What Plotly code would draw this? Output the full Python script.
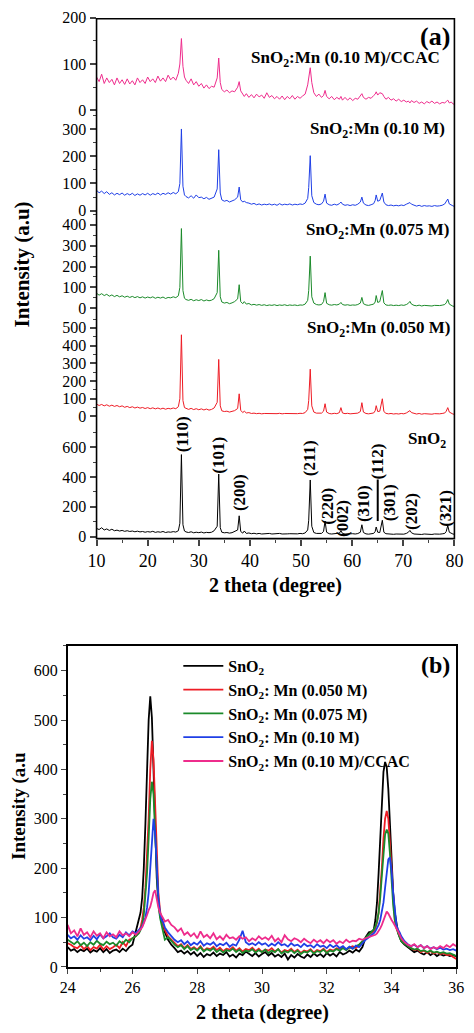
import plotly.graph_objects as go

W, H = 474, 1033

# ---------------- Panel (a) data: 2theta grid (degrees) ----------------
TWO_THETA_A = (
    [10, 10.5, 11, 11.5, 12, 12.5, 13, 13.5, 14, 14.5, 15, 15.5, 16, 16.5, 17, 17.5, 18, 18.5, 19, 19.5,
     20, 20.5, 21, 21.5, 22, 22.5, 23, 23.5, 24, 24.5, 25, 25.5, 26]
    + [26.3, 26.6, 26.9, 27.2]
    + [27.5, 28, 28.5, 29, 29.5, 30, 30.5, 31, 31.5, 32, 32.5, 33]
    + [33.6, 33.9, 34.2]
    + [34.5, 35, 35.5, 36, 36.5, 37]
    + [37.6, 37.9, 38.2]
    + [38.6, 38.9, 39.3, 39.8, 40.3, 40.8, 41.3, 41.8, 42.3, 42.8, 43.3, 43.8, 44.3, 44.8, 45.3, 45.8,
       46.3, 46.8, 47.3, 47.8, 48.3, 48.8, 49.3, 49.8, 50.3, 50.8, 51.3]
    + [51.5, 51.8, 52.1]
    + [52.5, 53, 53.5, 54, 54.4]
    + [54.7, 55.0]
    + [55.5, 56, 56.5, 57, 57.5]
    + [57.8, 58.1]
    + [58.6, 59.1, 59.6, 60.1, 60.6, 61.1, 61.6]
    + [61.9, 62.2]
    + [62.7, 63.2, 63.7, 64.2, 64.5]
    + [64.7, 65.0, 65.4, 65.9, 66.2]
    + [66.6, 67.1, 67.6, 68.1, 68.6, 69.1, 69.6, 70.1, 70.6]
    + [71.0, 71.3, 71.6]
    + [72.1, 72.6, 73.1, 73.6, 74.1, 74.6, 75.1, 75.6, 76.1, 76.6, 77.1, 77.6, 78.1, 78.4]
    + [78.7, 79.0]
    + [79.4, 79.7, 80]
)

SNO2_A = (
    [55, 48, 60, 45, 52, 42, 50, 40, 44, 38, 42, 36, 40, 35, 38, 33, 37, 32, 35, 30,
     34, 31, 36, 29, 33, 30, 35, 28, 32, 30, 34, 31, 40]
    + [90, 550, 80, 38]
    + [32, 28, 33, 26, 30, 27, 31, 25, 29, 27, 30, 40]
    + [70, 420, 60]
    + [30, 26, 28, 24, 27, 35]
    + [45, 140, 35]
    + [24, 38, 22, 25, 20, 23, 19, 22, 18, 21, 19, 22, 18, 21, 19, 22, 18, 21, 19, 20, 18, 21, 19, 22, 20, 25, 45]
    + [110, 380, 70]
    + [28, 22, 20, 22, 35]
    + [105, 30]
    + [20, 18, 21, 19, 24]
    + [40, 22]
    + [18, 20, 17, 20, 18, 21, 30]
    + [80, 28]
    + [19, 17, 20, 22, 35]
    + [65, 30, 28, 110, 30]
    + [20, 17, 19, 16, 18, 16, 19, 17, 22]
    + [30, 42, 26]
    + [18, 16, 19, 15, 18, 16, 17, 15, 18, 16, 17, 19, 22, 35]
    + [75, 30]
    + [20, 18, 16]
)

MN050_A = (
    [70, 62, 68, 60, 66, 58, 64, 57, 62, 55, 60, 52, 57, 50, 55, 48, 53, 47, 51, 45,
     50, 44, 49, 43, 48, 42, 47, 41, 46, 43, 48, 44, 55]
    + [100, 461, 90, 50]
    + [45, 40, 46, 39, 44, 38, 43, 37, 42, 36, 40, 48]
    + [80, 322, 60]
    + [32, 28, 30, 25, 27, 33]
    + [45, 128, 35]
    + [22, 30, 20, 22, 17, 19, 16, 18, 15, 17, 16, 18, 15, 17, 16, 18, 15, 17, 16, 18, 15, 17, 16, 18, 17, 22, 40]
    + [90, 267, 60]
    + [25, 19, 17, 19, 30]
    + [72, 25]
    + [17, 15, 18, 16, 22]
    + [50, 20]
    + [16, 18, 15, 17, 16, 19, 28]
    + [78, 25]
    + [17, 15, 18, 20, 32]
    + [61, 28, 30, 100, 28]
    + [18, 15, 17, 14, 16, 14, 17, 15, 20]
    + [25, 33, 22]
    + [16, 14, 17, 13, 16, 14, 15, 13, 16, 14, 15, 17, 20, 30]
    + [50, 25]
    + [16, 14, 12]
)

MN075_A = (
    [72, 63, 70, 61, 67, 58, 64, 56, 62, 55, 60, 53, 58, 52, 57, 51, 56, 50, 55, 49,
     54, 50, 55, 48, 53, 49, 54, 47, 52, 50, 55, 51, 60]
    + [100, 382, 85, 48]
    + [42, 38, 43, 36, 41, 37, 42, 35, 40, 36, 39, 46]
    + [75, 278, 55]
    + [30, 25, 28, 22, 26, 32]
    + [45, 113, 32]
    + [22, 32, 20, 23, 16, 19, 15, 18, 14, 17, 13, 16, 14, 17, 13, 16, 14, 17, 13, 16, 14, 16, 13, 16, 15, 20, 38]
    + [85, 250, 55]
    + [25, 18, 16, 18, 32]
    + [75, 24]
    + [17, 15, 18, 16, 20]
    + [28, 18]
    + [15, 17, 14, 16, 15, 18, 25]
    + [52, 22]
    + [16, 14, 17, 20, 30]
    + [61, 28, 32, 85, 26]
    + [16, 14, 16, 13, 15, 13, 16, 14, 18]
    + [24, 33, 20]
    + [14, 12, 15, 11, 14, 12, 13, 11, 14, 12, 13, 15, 18, 26]
    + [42, 20]
    + [12, 10, 9]
)

MN010_A = (
    [75, 66, 72, 63, 70, 60, 66, 58, 64, 59, 65, 57, 63, 58, 64, 56, 62, 57, 63, 58,
     64, 57, 63, 59, 65, 58, 64, 60, 66, 61, 67, 62, 70]
    + [100, 300, 90, 58]
    + [52, 47, 55, 46, 58, 48, 50, 44, 49, 42, 46, 50]
    + [80, 224, 65]
    + [40, 35, 38, 32, 36, 40]
    + [50, 87, 40]
    + [32, 35, 30, 28, 24, 27, 22, 25, 21, 24, 22, 25, 21, 24, 20, 26, 21, 24, 22, 25, 21, 24, 22, 25, 23, 28, 45]
    + [85, 202, 55]
    + [30, 24, 22, 25, 35]
    + [61, 28]
    + [22, 20, 24, 21, 26]
    + [32, 24]
    + [20, 22, 19, 22, 20, 24, 32]
    + [50, 28]
    + [21, 19, 22, 26, 38]
    + [58, 35, 38, 65, 32]
    + [22, 19, 21, 18, 20, 18, 21, 19, 24]
    + [27, 30, 24]
    + [19, 17, 20, 16, 19, 17, 18, 16, 19, 17, 18, 20, 25, 32]
    + [43, 25]
    + [20, 18, 16]
)

CCAC_A = (
    [72, 62, 78, 58, 70, 60, 67, 55, 70, 58, 66, 56, 68, 57, 64, 55, 70, 60, 66, 58,
     72, 62, 68, 60, 74, 63, 70, 62, 76, 66, 72, 65, 80]
    + [100, 155, 95, 72]
    + [65, 58, 68, 55, 62, 52, 58, 48, 55, 47, 52, 50]
    + [70, 113, 60]
    + [45, 40, 44, 38, 42, 40]
    + [50, 62, 42]
    + [34, 30, 36, 28, 34, 27, 35, 29, 33, 26, 38, 28, 32, 25, 30, 24, 31, 23, 30, 25, 32, 24, 30, 26, 31, 35, 55]
    + [70, 92, 60]
    + [38, 30, 35, 28, 32]
    + [43, 30]
    + [25, 30, 23, 28, 24]
    + [30, 22]
    + [28, 22, 27, 21, 26, 24, 30]
    + [36, 28]
    + [24, 28, 26, 32, 35]
    + [40, 33, 38, 36, 30]
    + [24, 28, 22, 25, 20, 24, 19, 22, 18]
    + [20, 16, 21]
    + [17, 20, 15, 18, 14, 19, 16, 20, 15, 18, 14, 17, 16, 19]
    + [22, 16]
    + [18, 14, 13]
)

# Miller indices of SnO2 reflections
MILLER = ["(110)", "(101)", "(200)", "(211)", "(220)", "(002)", "(310)", "(112)", "(301)", "(202)", "(321)"]
MILLER_2THETA = [26.7, 33.9, 38.0, 51.8, 55.2, 58.2, 62.1, 65.0, 67.2, 71.5, 78.1]

# ---------------- Panel (b) data ----------------
TWO_THETA_B = (
    [24.0, 24.1, 24.2, 24.3, 24.4, 24.5, 24.6, 24.7, 24.8, 24.9, 25.0, 25.1, 25.2, 25.3, 25.4, 25.5,
     25.6, 25.7, 25.8, 25.9, 26.0, 26.1, 26.2]
    + [26.25, 26.3, 26.35, 26.4, 26.45, 26.5, 26.55, 26.6, 26.65, 26.7, 26.75, 26.8, 26.85, 26.9, 26.95, 27.0]
    + [27.1, 27.2, 27.3, 27.4, 27.5, 27.6, 27.7, 27.8, 27.9, 28.0,
       28.1, 28.2, 28.3, 28.4, 28.5, 28.6, 28.7, 28.8, 28.9, 29.0,
       29.1, 29.2, 29.3, 29.4, 29.5, 29.6, 29.7, 29.8, 29.9, 30.0,
       30.1, 30.2, 30.3, 30.4, 30.5, 30.6, 30.7, 30.8, 30.9, 31.0,
       31.1, 31.2, 31.3, 31.4, 31.5, 31.6, 31.7, 31.8, 31.9, 32.0,
       32.1, 32.2, 32.3, 32.4, 32.5, 32.6, 32.7, 32.8, 32.9, 33.0,
       33.1, 33.2, 33.3, 33.4]
    + [33.45, 33.5, 33.55, 33.6, 33.65, 33.7, 33.75, 33.8, 33.85, 33.9, 33.95, 34.0, 34.05, 34.1, 34.15,
       34.2, 34.25, 34.3]
    + [34.4, 34.5, 34.6, 34.7, 34.8, 34.9, 35.0, 35.1, 35.2, 35.3, 35.4, 35.5, 35.6, 35.7, 35.8, 35.9, 36.0]
)

SNO2_B = (
    [40, 33, 36, 30, 35, 32, 37, 29, 34, 31, 38, 30, 36, 28, 33, 35, 30, 37, 32, 40, 45, 70, 95]
    + [110, 140, 200, 290, 400, 500, 548, 505, 400, 280, 180, 130, 105, 100, 85, 70]
    + [55, 45, 38, 30, 33, 27, 32, 25, 30, 22,
       28, 20, 26, 23, 29, 22, 27, 24, 30, 21,
       25, 19, 27, 24, 31, 26, 22, 28, 21, 26,
       30, 23, 28, 21, 25, 20, 27, 15, 24, 19,
       26, 21, 18, 25, 20, 27, 22, 26, 20, 28,
       23, 27, 21, 30, 25, 28, 33, 29, 35, 31,
       40, 60, 70, 72]
    + [75, 95, 130, 190, 270, 340, 395, 415, 405, 360, 290, 210, 150, 110, 85, 70, 60, 52]
    + [45, 40, 35, 30, 33, 28, 25, 30, 24, 28, 22, 26, 23, 25, 22, 24, 21]
)

MN050_B = (
    [48, 45, 40, 38, 44, 36, 42, 34, 40, 37, 45, 35, 42, 36, 40, 45, 38, 50, 42, 55, 58, 62, 70]
    + [80, 95, 120, 160, 220, 300, 400, 458, 420, 320, 220, 150, 115, 95, 85, 75]
    + [62, 55, 48, 42, 46, 38, 44, 36, 40, 35,
       42, 33, 38, 36, 41, 34, 39, 32, 37, 35,
       40, 33, 38, 31, 36, 34, 39, 32, 37, 30,
       35, 33, 38, 31, 36, 29, 34, 32, 37, 30,
       35, 28, 33, 31, 36, 29, 34, 32, 37, 30,
       35, 33, 38, 36, 40, 35, 39, 42, 38, 45,
       50, 58, 65, 70]
    + [72, 78, 90, 110, 150, 200, 260, 300, 316, 300, 250, 190, 130, 95, 78, 70, 62, 55]
    + [48, 42, 38, 34, 36, 30, 33, 28, 32, 27, 30, 26, 28, 24, 25, 20, 16]
)

MN075_B = (
    [55, 50, 46, 52, 44, 49, 42, 50, 45, 53, 47, 44, 51, 46, 49, 43, 52, 47, 55, 50, 58, 62, 68]
    + [75, 85, 105, 140, 190, 260, 340, 375, 350, 270, 190, 130, 100, 85, 70, 55]
    + [60, 52, 45, 40, 44, 36, 42, 34, 38, 33,
       40, 31, 36, 33, 38, 30, 35, 29, 34, 32,
       37, 30, 35, 28, 33, 31, 36, 29, 34, 30,
       35, 28, 33, 30, 36, 27, 32, 29, 34, 28,
       33, 26, 31, 29, 34, 27, 32, 30, 35, 28,
       33, 31, 36, 33, 38, 34, 40, 37, 42, 45,
       52, 60, 66, 72]
    + [76, 82, 92, 110, 140, 185, 235, 268, 278, 270, 230, 175, 125, 95, 78, 68, 60, 52]
    + [47, 42, 38, 35, 37, 32, 34, 30, 33, 29, 31, 28, 30, 27, 28, 25, 22]
)

MN010_B = (
    [65, 58, 62, 55, 64, 57, 60, 54, 63, 56, 66, 58, 62, 68, 60, 57, 65, 60, 70, 64, 72, 68, 75]
    + [78, 82, 90, 100, 120, 150, 200, 260, 300, 270, 200, 140, 110, 95, 90, 80]
    + [70, 62, 55, 50, 54, 46, 52, 44, 49, 45,
       52, 43, 48, 45, 50, 42, 47, 44, 49, 41,
       46, 43, 55, 73, 50, 45, 48, 44, 50, 45,
       48, 42, 47, 43, 50, 44, 46, 41, 48, 43,
       45, 40, 47, 42, 44, 39, 46, 41, 43, 38,
       45, 40, 44, 38, 42, 36, 41, 37, 43, 40,
       48, 55, 60, 65]
    + [68, 72, 78, 85, 95, 110, 130, 160, 195, 218, 222, 195, 150, 110, 85, 75, 70, 62]
    + [52, 46, 42, 45, 40, 44, 38, 42, 37, 40, 36, 39, 35, 37, 34, 36, 33]
)

CCAC_B = (
    [85, 68, 74, 62, 78, 65, 70, 60, 72, 63, 68, 58, 70, 62, 66, 60, 72, 64, 68, 62, 70, 65, 72]
    + [75, 80, 88, 95, 105, 115, 122, 135, 150, 155, 135, 120, 110, 105, 98, 92]
    + [95, 85, 80, 72, 78, 65, 70, 62, 68, 58,
       72, 60, 65, 58, 68, 56, 62, 55, 65, 58,
       60, 55, 62, 57, 60, 52, 58, 54, 62, 56,
       60, 55, 63, 52, 58, 50, 64, 56, 52, 58,
       55, 50, 57, 52, 48, 55, 50, 54, 48, 55,
       50, 54, 47, 52, 48, 55, 50, 53, 52, 57,
       55, 58, 60, 62]
    + [63, 65, 68, 72, 78, 85, 95, 105, 112, 108, 100, 95, 90, 85, 78, 72, 65, 58]
    + [50, 45, 42, 46, 40, 44, 38, 42, 36, 40, 37, 42, 38, 44, 40, 46, 42]
)

for arr in (SNO2_A, MN050_A, MN075_A, MN010_A, CCAC_A):
    assert len(arr) == len(TWO_THETA_A), (len(arr), len(TWO_THETA_A))
for arr in (SNO2_B, MN050_B, MN075_B, MN010_B, CCAC_B):
    assert len(arr) == len(TWO_THETA_B), (len(arr), len(TWO_THETA_B))

NAMES = ["SnO<sub>2</sub>", "SnO<sub>2</sub>: Mn (0.050 M)", "SnO<sub>2</sub>: Mn (0.075 M)",
         "SnO<sub>2</sub>: Mn (0.10 M)", "SnO<sub>2</sub>: Mn (0.10 M)/CCAC"]
PANEL_LABELS = ["SnO<sub>2</sub>", "SnO<sub>2</sub>:Mn (0.050 M)", "SnO<sub>2</sub>:Mn (0.075 M)",
                "SnO<sub>2</sub>:Mn (0.10 M)", "SnO<sub>2</sub>:Mn (0.10 M)/CCAC"]
COLORS = ["#000000", "#ee1c25", "#1b8a2a", "#1f3fe6", "#ee2c8c"]

# ---------------- layout helpers (pixel -> paper) ----------------
def px(x):
    return x / W

def py(y):
    return 1 - y / H

FONT = "Liberation Serif"

# panel (a) sub-axes: (top px, bottom px, range, tickvals, minor dtick)
A_LEFT, A_RIGHT, A_TOP, A_BOT = 91, 463, 12, 540
SUB = [
    (419, 540, [-13, 785], [0, 200, 400, 600], 100),     # SnO2
    (309, 419, [-17, 594], [0, 100, 200, 300, 400, 500], 50),
    (210, 309, [-14, 453], [0, 100, 200, 300, 400], 50),
    (107, 210, [-11, 361], [0, 100, 200, 300], 50),
    (9, 107, [-4.3, 204], [0, 100, 200], 50),
]
A_SERIES = [SNO2_A, MN050_A, MN075_A, MN010_A, CCAC_A]
B_SERIES = [SNO2_B, MN050_B, MN075_B, MN010_B, CCAC_B]

fig = go.Figure()
for i, ys in enumerate(A_SERIES):
    fig.add_trace(go.Scatter(x=TWO_THETA_A, y=ys, mode="lines", xaxis="x",
                             yaxis="y" if i == 0 else f"y{i+1}",
                             line=dict(color=COLORS[i], width=1), showlegend=False))
for i, ys in enumerate(B_SERIES):
    fig.add_trace(go.Scatter(x=TWO_THETA_B, y=ys, mode="lines", xaxis="x2", yaxis="y6",
                             name=NAMES[i], line=dict(color=COLORS[i], width=1.8)))

tickfont_a = dict(family=FONT, size=16, color="black")
layout = dict(
    width=W, height=H, margin=dict(l=0, r=0, t=0, b=0),
    paper_bgcolor="white", plot_bgcolor="white",
    font=dict(family=FONT, color="black"),
    xaxis=dict(domain=[px(A_LEFT), px(A_RIGHT)], range=[10, 80], anchor="y",
               tickvals=[10, 20, 30, 40, 50, 60, 70, 80], ticks="outside", ticklen=6, tickwidth=1.5,
               minor=dict(dtick=5, tick0=10, ticks="outside", ticklen=3, tickwidth=1.2),
               showline=False, showgrid=False, zeroline=False,
               tickfont=dict(family=FONT, size=18, color="black")),
    xaxis2=dict(domain=[px(61), px(465)], range=[24, 36], anchor="y6",
                tickvals=[24, 26, 28, 30, 32, 34, 36], ticks="outside", ticklen=5, tickwidth=1.3,
                minor=dict(dtick=1, tick0=24, ticks="outside", ticklen=3, tickwidth=1),
                showline=True, linecolor="black", linewidth=1.5, mirror=True,
                showgrid=False, zeroline=False,
                tickfont=dict(family=FONT, size=16, color="black")),
    yaxis6=dict(domain=[py(975), py(649)], range=[0, 650], anchor="x2",
                tickvals=[0, 100, 200, 300, 400, 500, 600], ticks="outside", ticklen=5, tickwidth=1.3,
                minor=dict(dtick=50, ticks="outside", ticklen=3, tickwidth=1),
                showline=True, linecolor="black", linewidth=1.5, mirror=True,
                showgrid=False, zeroline=False,
                tickfont=dict(family=FONT, size=16, color="black")),
    legend=dict(x=px(176), y=py(652), xanchor="left", yanchor="top", bgcolor="rgba(0,0,0,0)",
                font=dict(family=FONT, size=16, color="black", weight="bold"),
                tracegroupgap=0, itemwidth=40),
)
for i, (top, bot, rng, tv, mdt) in enumerate(SUB):
    key = "yaxis" if i == 0 else f"yaxis{i+1}"
    layout[key] = dict(domain=[py(bot), py(top)], range=rng, anchor="x",
                       tickvals=tv, ticks="outside", ticklen=6, tickwidth=1.5,
                       minor=dict(dtick=mdt, ticks="outside", ticklen=3, tickwidth=1.2),
                       showline=False, showgrid=False, zeroline=False, tickfont=tickfont_a)
fig.update_layout(**layout)

# frame of panel (a)
fig.add_shape(type="rect", xref="paper", yref="paper",
              x0=px(A_LEFT), x1=px(A_RIGHT), y0=py(A_BOT), y1=py(A_TOP),
              line=dict(color="black", width=1.6), fillcolor="rgba(0,0,0,0)", layer="above")

ann = []
# panel sample labels (right aligned)
LABEL_POS = [(456, 440), (461, 327), (459, 228), (455, 125), (450, 53)]
for lab, (xr, yc) in zip(PANEL_LABELS, LABEL_POS):
    ann.append(dict(text=f"<b>{lab}</b>", x=px(xr), y=py(yc), xref="paper", yref="paper",
                    xanchor="right", yanchor="middle", showarrow=False,
                    font=dict(family=FONT, size=17, color="black")))
# Miller indices
MILLER_Y = [434, 455, 493, 458, 507, 519, 504, 462, 503, 512, 509]
for lab, xv, yc in zip(MILLER, MILLER_2THETA, MILLER_Y):
    ann.append(dict(text=f"<b>{lab}</b>", x=xv, y=py(yc), xref="x", yref="paper",
                    textangle=-90, xanchor="center", yanchor="middle", showarrow=False,
                    font=dict(family=FONT, size=17, color="black")))
fig.add_shape(type="line", xref="x", yref="paper", x0=65.0, x1=65.0, y0=py(522), y1=py(480),
              line=dict(color="black", width=2))

# panel letters
ann.append(dict(text="<b>(a)</b>", x=px(460), y=py(30), xref="paper", yref="paper",
                xanchor="right", yanchor="middle", showarrow=False,
                font=dict(family=FONT, size=26, color="black")))
ann.append(dict(text="<b>(b)</b>", x=px(460), y=py(668), xref="paper", yref="paper",
                xanchor="right", yanchor="middle", showarrow=False,
                font=dict(family=FONT, size=24, color="black")))
# axis titles
ann.append(dict(text="<b>Intensity (a.u)</b>", x=px(13), y=py(262), xref="paper", yref="paper",
                textangle=-90, xanchor="center", yanchor="middle", showarrow=False,
                font=dict(family=FONT, size=21, color="black")))
ann.append(dict(text="<b>Intensity (a.u</b>", x=px(11), y=py(812), xref="paper", yref="paper",
                textangle=-90, xanchor="center", yanchor="middle", showarrow=False,
                font=dict(family=FONT, size=19, color="black")))
ann.append(dict(text="<b>2 theta (degree)</b>", x=px(277), y=py(588), xref="paper", yref="paper",
                xanchor="center", yanchor="middle", showarrow=False,
                font=dict(family=FONT, size=20, color="black")))
ann.append(dict(text="<b>2 theta (degree)</b>", x=px(263), y=py(1021), xref="paper", yref="paper",
                xanchor="center", yanchor="middle", showarrow=False,
                font=dict(family=FONT, size=20, color="black")))
fig.update_layout(annotations=ann)

fig.write_html("out.html")
